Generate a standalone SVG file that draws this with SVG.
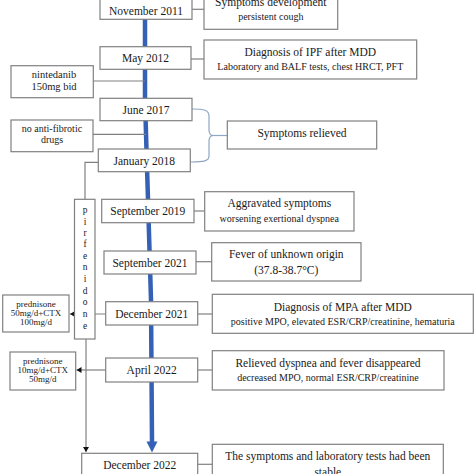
<svg xmlns="http://www.w3.org/2000/svg" width="474" height="474" viewBox="0 0 474 474">
<style>
.b{fill:#fff;stroke:#808080;stroke-width:1.2}
.c{fill:none;stroke:#808080;stroke-width:1.2}
text{font-family:"Liberation Serif","Times New Roman",serif;fill:#1a1a1a;text-anchor:middle}
.d{font-size:11.5px}
.t{font-size:11.5px}
.s{font-size:10px}
.l{font-size:10.5px}
.p{font-size:9px}
.v{font-size:9.5px}
</style>
<defs>
<marker id="ah" markerWidth="6" markerHeight="6" refX="5" refY="3" orient="auto" markerUnits="userSpaceOnUse">
<path d="M0,0 L5,3 L0,6 Z" fill="#111"/>
</marker>
</defs>
<rect width="474" height="474" fill="#fff"/>
<g id="connectors">
<polyline points="145,15 145,100 148,200 151,300 152,443" fill="none" stroke="#3461b5" stroke-width="4.5"/>
<polygon points="146.5,441.5 157.5,441.5 152,452.5" fill="#3461b5"/>
<line class="c" x1="192" y1="9.3" x2="204" y2="9.3"/>
<line class="c" x1="191" y1="59" x2="204" y2="59"/>
<line class="c" x1="93" y1="81" x2="145" y2="81"/>
<line class="c" x1="93" y1="134.3" x2="146" y2="134.3"/>
<path d="M192,109 C204,109 209,110 209,116 L209,130 Q209,135 213,135.5 Q209,136 209,141 L209,156 C209,161 204,162 191,162" fill="none" stroke="#8fa6c6" stroke-width="1.2"/>
<line x1="213" y1="135.5" x2="227.3" y2="135.5" stroke="#8fa6c6" stroke-width="1.2"/>
<line class="c" x1="194" y1="211" x2="204.7" y2="211"/>
<line class="c" x1="196" y1="261.7" x2="211.7" y2="261.7"/>
<line class="c" x1="197.7" y1="314" x2="212.3" y2="314"/>
<line class="c" x1="105.7" y1="314" x2="70" y2="314" marker-end="url(#ah)"/>
<line class="c" x1="197.7" y1="370" x2="212.3" y2="370"/>
<line class="c" x1="105.7" y1="370" x2="76.5" y2="370" marker-end="url(#ah)"/>
<line class="c" x1="197.7" y1="464.3" x2="212.3" y2="464.3"/>
<polyline class="c" points="98.3,162.3 85,162.3 85,199.3"/>
<line class="c" x1="86" y1="339" x2="86" y2="452" marker-end="url(#ah)"/>
</g>
<g id="nov2011"><rect class="b" x="100" y="-5" width="92" height="24.3"/><text class="d" x="146" y="15">November 2011</text></g>
<g id="symptomsdev"><rect class="b" x="204" y="-10" width="133.7" height="39.3"/><text class="t" x="270.8" y="6">Symptoms development</text><text class="s" x="270.8" y="20">persistent cough</text></g>
<g id="may2012"><rect class="b" x="100" y="46.7" width="91" height="22.6"/><text class="d" x="145.5" y="62">May 2012</text></g>
<g id="dxipf"><rect class="b" x="204" y="40" width="212.7" height="39"/><text class="t" x="310.3" y="56">Diagnosis of IPF after MDD</text><text class="s" x="310.3" y="70">Laboratory and BALF tests, chest HRCT, PFT</text></g>
<g id="nintedanib"><rect class="b" x="11" y="65.7" width="82.3" height="32"/><text class="l" x="54" y="77.5">nintedanib</text><text class="l" x="54" y="90">150mg bid</text></g>
<g id="jun2017"><rect class="b" x="100" y="98.3" width="92" height="22.4"/><text class="d" x="146" y="113.5">June 2017</text></g>
<g id="noantifibrotic"><rect class="b" x="11" y="120" width="82" height="31.7"/><text class="s" x="52" y="132.3">no anti-fibrotic</text><text class="s" x="52" y="143.3">drugs</text></g>
<g id="relieved1"><rect class="b" x="227.3" y="121" width="149.4" height="28"/><text class="t" x="302" y="137">Symptoms relieved</text></g>
<g id="jan2018"><rect class="b" x="98.3" y="149" width="92" height="22.7"/><text class="d" x="144.3" y="164.5">January 2018</text></g>
<g id="pirfenidone"><rect class="b" x="74.5" y="199.3" width="20.5" height="139.7"/>
<text class="v" x="85" y="213">p</text><text class="v" x="85" y="225">i</text><text class="v" x="85" y="236">r</text><text class="v" x="85" y="247">f</text><text class="v" x="85" y="259">e</text><text class="v" x="85" y="270">n</text><text class="v" x="85" y="282">i</text><text class="v" x="85" y="294">d</text><text class="v" x="85" y="305">o</text><text class="v" x="85" y="317">n</text><text class="v" x="85" y="329">e</text></g>
<g id="sep2019"><rect class="b" x="101.7" y="199.3" width="92.3" height="23.4"/><text class="d" x="147.8" y="215">September 2019</text></g>
<g id="aggravated"><rect class="b" x="204.7" y="191.7" width="149.3" height="39.3"/><text class="t" x="279.3" y="207">Aggravated symptoms</text><text class="s" x="279.3" y="221.7">worsening exertional dyspnea</text></g>
<g id="sep2021"><rect class="b" x="104" y="251" width="92" height="23"/><text class="d" x="150" y="266.5">September 2021</text></g>
<g id="fever"><rect class="b" x="211.7" y="242.7" width="149.3" height="38.3"/><text class="t" x="286.3" y="258">Fever of unknown origin</text><text class="t" x="286.3" y="274">(37.8-38.7°C)</text></g>
<g id="dec2021"><rect class="b" x="105.7" y="301.7" width="92" height="23.3"/><text class="d" x="151.7" y="317.5">December 2021</text></g>
<g id="mpa"><rect class="b" x="212.3" y="294.3" width="261" height="39"/><text class="t" x="342.8" y="311">Diagnosis of MPA after MDD</text><text class="s" x="342.8" y="324.5">positive MPO, elevated ESR/CRP/creatinine, hematuria</text></g>
<g id="pred50"><rect class="b" x="2.7" y="295" width="66.3" height="37"/><text class="p" x="36" y="307.3">prednisone</text><text class="p" x="36" y="316">50mg/d+CTX</text><text class="p" x="36" y="324.7">100mg/d</text></g>
<g id="apr2022"><rect class="b" x="105.7" y="358" width="92" height="24"/><text class="d" x="151.7" y="374">April 2022</text></g>
<g id="relieved2"><rect class="b" x="212.3" y="350.7" width="231.7" height="39.3"/><text class="t" x="328" y="366.7">Relieved dyspnea and fever disappeared</text><text class="s" x="328" y="381">decreased MPO, normal ESR/CRP/creatinine</text></g>
<g id="pred10"><rect class="b" x="10" y="352" width="65.7" height="38"/><text class="p" x="42.8" y="364.3">prednisone</text><text class="p" x="42.8" y="373.3">10mg/d+CTX</text><text class="p" x="42.8" y="382.3">50mg/d</text></g>
<g id="dec2022"><rect class="b" x="81.7" y="453.3" width="116" height="30"/><text class="d" x="139.7" y="468.5">December 2022</text></g>
<g id="stable"><rect class="b" x="212.3" y="444.3" width="231" height="40"/><text class="t" x="327.8" y="460">The symptoms and laboratory tests had been</text><text class="t" x="327.8" y="476">stable</text></g>
</svg>
